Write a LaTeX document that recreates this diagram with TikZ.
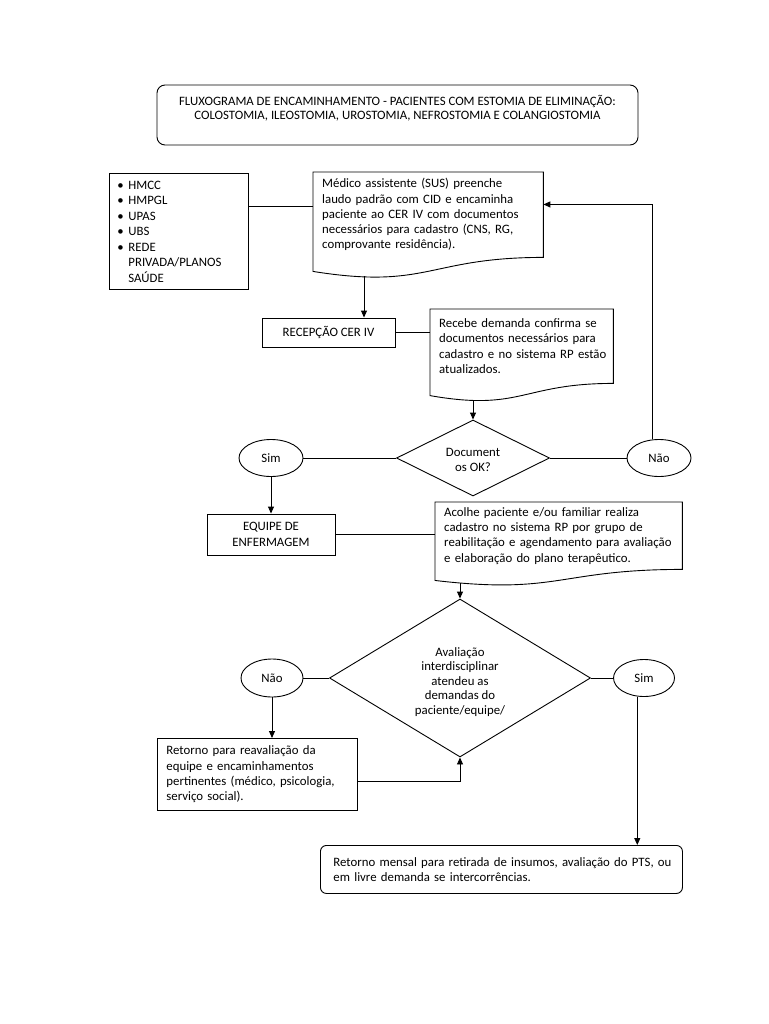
\documentclass[tikz,border=0pt]{standalone}
\usepackage{fontspec}
\setmainfont{Carlito}
\usetikzlibrary{arrows.meta, positioning, shapes.geometric, calc}

\newcommand{\flowfont}{\fontsize{12.8}{15.3}\selectfont}

% document shape: straight top and sides, wavy bottom (#2 = height of the node)
\newcommand{\docwave}[2]{%
  \draw[base] (#1.north west) -- (#1.north east) -- (#1.south east)
    .. controls (#1.south) and ($(#1.south)+(0,0.382*#2)$) ..
    ($(#1.south west)+(0,0.165*#2)$) -- cycle;}

\tikzset{
  every node/.style={font=\flowfont},
  base/.style={draw=black, line width=0.9pt},
  line/.style={base},
  arr/.style={base, -{Triangle[length=7pt,width=6pt]}},
  textbox/.style={base, rectangle, anchor=north west, align=left, inner xsep=9pt, inner ysep=0pt},
  docbox/.style={rectangle, anchor=north west, align=left, inner xsep=9pt, inner ysep=0pt},
  plainbox/.style={base, rectangle, align=center, inner sep=0pt},
  decision/.style={base, diamond, aspect=2, inner sep=0pt},
  answer/.style={base, ellipse, inner sep=0pt, minimum width=64, minimum height=37},
}

\begin{document}
\begin{tikzpicture}[x=1pt, y=-1pt]
    \useasboundingbox (0,0) rectangle (768,1024);

    % title
    \node[base, rounded corners=8pt, minimum width=481, minimum height=60,
      label={[align=center, yshift=7pt, font=\fontsize{12.8}{14.5}\selectfont]center:{FLUXOGRAMA DE ENCAMINHAMENTO - PACIENTES COM ESTOMIA DE ELIMINAÇÃO:\\COLOSTOMIA, ILEOSTOMIA, UROSTOMIA, NEFROSTOMIA E COLANGIOSTOMIA}}]
      (titulo) at (397.5,115) {};

    % origin of the referral
    \node[textbox, inner xsep=8pt, text width=123, minimum height=116,
      font=\fontsize{12.8}{15.5}\selectfont] (origem) at (109,173)
      {\makebox[11pt][l]{•}HMCC\\\makebox[11pt][l]{•}HMPGL\\\makebox[11pt][l]{•}UPAS\\\makebox[11pt][l]{•}UBS\\\makebox[11pt][l]{•}REDE\\\hspace*{11pt}PRIVADA/PLANOS\\\hspace*{11pt}SAÚDE};

    \node[docbox, text width=212, minimum height=85] (medico) at (313,172)
      {Médico assistente (SUS) preenche\\laudo padrão com CID e encaminha\\paciente ao CER IV com documentos\\necessários para cadastro (CNS, RG,\\comprovante residência).};
    \docwave{medico}{85}

    % reception
    \node[plainbox, minimum width=133, minimum height=29] (recepcao) at (328.5,332.5) {RECEPÇÃO CER IV};

    \node[docbox, text width=165, minimum height=74] (recebe) at (430,309)
      {Recebe demanda confirma se\\documentos necessários para\\\mbox{cadastro e no sistema RP estão}\\atualizados.};
    \docwave{recebe}{74}

    % first decision
    \node[decision, minimum width=153, minimum height=76,
      label={[align=center, yshift=-2pt]center:{Document\\os OK?}}] (docok) at (473,458) {};
    \node[answer] (sim1) at (271,458) {Sim};
    \node[answer] (nao1) at (659,458) {Não};

    \node[plainbox, minimum width=128, minimum height=41] (equipe) at (271,534.5) {EQUIPE DE\\ENFERMAGEM};

    \node[docbox, text width=229, minimum height=67] (acolhe) at (435,502)
      {Acolhe paciente e/ou familiar realiza\\cadastro no sistema RP por grupo de\\\mbox{reabilitação e agendamento para avaliação}\\e elaboração do plano terapêutico.};
    \docwave{acolhe}{67}

    % second decision
    \node[decision, minimum width=261, minimum height=158,
      label={[align=center, yshift=-4pt, font=\fontsize{12.8}{14.5}\selectfont]center:{Avaliação\\interdisciplinar\\atendeu as\\demandas do\\paciente/equipe/}}] (avalia) at (460,678) {};
    \node[answer, minimum width=62, minimum height=38] (nao2) at (272,678) {Não};
    \node[answer, minimum width=61] (sim2) at (644,678) {Sim};

    \node[textbox, text width=182, minimum height=72] (retorno) at (157,738)
      {Retorno para reavaliação da\\equipe e encaminhamentos\\pertinentes (médico, psicologia,\\serviço social).};

    \node[textbox, rounded corners=6pt, inner xsep=13pt, text width=336, minimum height=48] (mensal) at (320,845)
      {\mbox{Retorno mensal para retirada de insumos, avaliação do PTS, ou}\\em livre demanda se intercorrências.};

    % connectors
    \coordinate (medin) at ($(medico.north west)!0.4!(medico.south west)$);
    \draw[line] (medin) -- (medin -| origem.east);
    \coordinate (medout) at (364,276);
    \draw[arr] (medout) -- (medout |- recepcao.north);
    \draw[line] (recepcao.east) -- (recepcao.east -| recebe.west);
    \coordinate (recout) at (473,400);
    \draw[arr] (recout) -- (docok.north);
    \draw[line] (sim1.east) -- (docok.west);
    \draw[line] (docok.east) -- (nao1.west);
    \coordinate (medret) at ($(medico.north east)!0.38!(medico.south east)$);
    \draw[arr] (nao1.110) |- (medret);
    \draw[arr] (sim1.south) -- (equipe.north);
    \draw[line] (equipe.east) -- (equipe.east -| acolhe.west);
    \coordinate (acoout) at (460,583);
    \draw[arr] (acoout) -- (avalia.north);
    \draw[line] (nao2.east) -- (avalia.west);
    \draw[line] (avalia.east) -- (sim2.west);
    \draw[arr] (nao2.south) -- (nao2.south |- retorno.north);
    \coordinate (retout) at ($(retorno.north east)!0.6!(retorno.south east)$);
    \draw[arr] (retout) -| (avalia.south);
    \draw[arr] (sim2.250) -- (sim2.250 |- mensal.north);
\end{tikzpicture}
\end{document}
